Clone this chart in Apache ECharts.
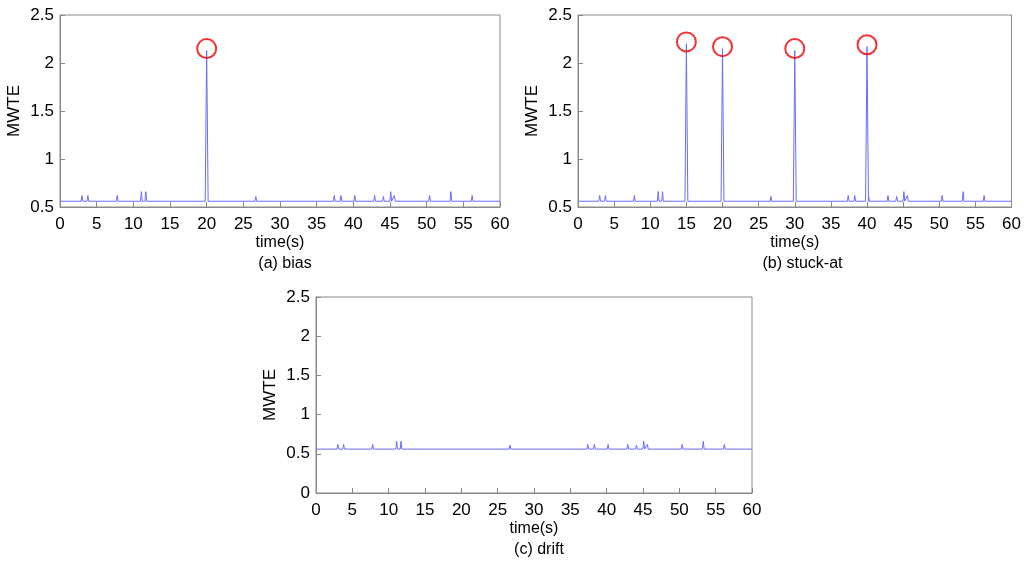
<!DOCTYPE html>
<html><head><meta charset="utf-8">
<script src="https://cdn.jsdelivr.net/npm/echarts@6/dist/echarts.min.js"></script>
<style>html,body{margin:0;background:#fff}#c{width:1024px;height:562px}</style>
</head><body><div id="c"></div>
<script>
// baseline MWTE level
const base = 0.56;
// small spikes (time s, MWTE) common to the three cases
const smallT = [3, 3.8, 7.8, 11.1, 11.7, 26.7, 37.4, 38.3, 40.2, 42.9, 44.1, 45.1, 45.6, 50.4, 53.3, 56.2];
const smallV = [0.62, 0.62, 0.62, 0.66, 0.66, 0.61, 0.62, 0.62, 0.62, 0.62, 0.61, 0.66, 0.62, 0.62, 0.66, 0.62];
// fault peaks
const biasT = [20], biasV = [2.13];
const stuckT = [15, 20, 30, 40], stuckV = [2.2, 2.15, 2.13, 2.17];
const driftT = [], driftV = [];
const captions = ['(a) bias', '(b) stuck-at', '(c) drift'];

function build(bt, bv) {
  const ev = [];
  smallT.forEach((t, i) => ev.push([t, smallV[i], 0.12]));
  bt.forEach((t, i) => ev.push([t, bv[i], 0.2]));
  ev.sort((a, b) => a[0] - b[0]);
  const d = [[0, base]];
  ev.forEach(e => { d.push([e[0] - e[2], base], [e[0], e[1]], [e[0] + e[2], base]); });
  d.push([60, base]);
  return d;
}

const grids = [
  { left: 60, top: 15, width: 440, height: 192, ymin: 0.5 },
  { left: 578, top: 15, width: 439, height: 192, ymin: 0.5 },
  { left: 316, top: 297, width: 436, height: 196, ymin: 0 }
];
const sets = [[biasT, biasV], [stuckT, stuckV], [driftT, driftV]];
const font = { fontFamily: 'Liberation Sans', fontSize: 17, color: '#000' };

const chart = echarts.init(document.getElementById('c'));
chart.setOption({
  animation: false,
  title: grids.map((g, i) => ({
    text: captions[i], left: g.left + g.width / 2, top: g.top + g.height + 44, textAlign: 'center',
    textStyle: { fontFamily: 'Liberation Sans', fontSize: 16, fontWeight: 'normal', color: '#000' }
  })),
  grid: grids.map(g => ({ left: g.left, top: g.top, width: g.width, height: g.height, show: true, borderColor: '#888', borderWidth: 1 })),
  xAxis: grids.map((g, i) => ({
    gridIndex: i, type: 'value', min: 0, max: 60, interval: 5,
    name: 'time(s)', nameLocation: 'middle', nameGap: 28, nameTextStyle: Object.assign({}, font, { fontSize: 16 }),
    axisLine: { lineStyle: { color: '#888' } }, axisTick: { inside: true, length: 5, lineStyle: { color: '#888' } },
    axisLabel: Object.assign({ margin: 9 }, font), splitLine: { show: false }
  })),
  yAxis: grids.map((g, i) => ({
    gridIndex: i, type: 'value', min: g.ymin, max: 2.5, interval: 0.5,
    name: 'MWTE', nameLocation: 'middle', nameGap: 37, nameTextStyle: font,
    axisLine: { show: true, lineStyle: { color: '#888' } }, axisTick: { inside: true, length: 5, lineStyle: { color: '#888' } },
    axisLabel: Object.assign({ margin: 6, formatter: v => String(v) }, font), splitLine: { show: false }
  })),
  series: sets.flatMap((s, i) => [
    { type: 'line', xAxisIndex: i, yAxisIndex: i, data: build(s[0], s[1]), showSymbol: false,
      lineStyle: { color: '#6b6bff', width: 1 } },
    { type: 'scatter', xAxisIndex: i, yAxisIndex: i, data: s[0].map((t, k) => [t, s[1][k] + 0.02]), z: 5,
      symbol: 'circle', symbolSize: 19, itemStyle: { color: 'rgba(0,0,0,0)', borderColor: '#ee0000', borderWidth: 2 } }
  ])
});
</script></body></html>
